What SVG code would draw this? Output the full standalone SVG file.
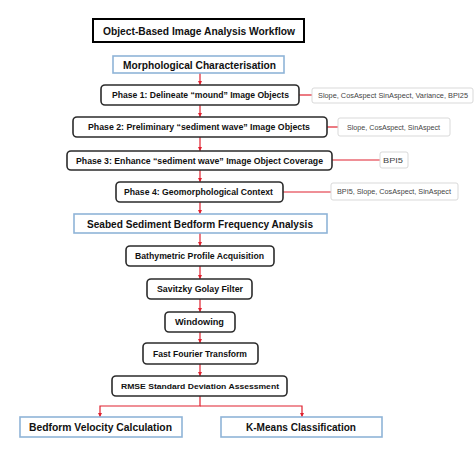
<svg xmlns="http://www.w3.org/2000/svg" width="474" height="474" viewBox="0 0 474 474">
<style>
.t{font-family:"Liberation Sans",Arial,sans-serif;font-weight:bold;fill:#111;text-anchor:middle;dominant-baseline:central}
.s{font-family:"Liberation Sans",Arial,sans-serif;fill:#444;text-anchor:middle;dominant-baseline:central;font-size:7px}
.ph{fill:#fff;stroke:#2b2b2b;stroke-width:1.6}
.bl{fill:#fff;stroke:#8fb4d8;stroke-width:1.6}
.sd{fill:#fff;stroke:#d9d9d9;stroke-width:1}
.c{stroke:#e0202e;stroke-width:1.2;fill:none}
</style>
<defs>
<marker id="ah" viewBox="0 0 6 6" refX="6" refY="3" markerWidth="4" markerHeight="4" orient="auto" markerUnits="userSpaceOnUse">
<path d="M0,0 L6,3 L0,6 z" fill="#e0202e"/>
</marker>
</defs>
<rect width="474" height="474" fill="#fff"/>
<g id="connectors">
<line class="c" x1="200" y1="73" x2="200" y2="85" marker-end="url(#ah)"/>
<line class="c" x1="200" y1="105" x2="200" y2="117" marker-end="url(#ah)"/>
<line class="c" x1="200" y1="137" x2="200" y2="151" marker-end="url(#ah)"/>
<line class="c" x1="200" y1="170" x2="200" y2="182" marker-end="url(#ah)"/>
<line class="c" x1="200" y1="202" x2="200" y2="214" marker-end="url(#ah)"/>
<line class="c" x1="200" y1="233" x2="200" y2="246" marker-end="url(#ah)"/>
<line class="c" x1="200" y1="266" x2="200" y2="279" marker-end="url(#ah)"/>
<line class="c" x1="200" y1="299" x2="200" y2="312" marker-end="url(#ah)"/>
<line class="c" x1="200" y1="332" x2="200" y2="343" marker-end="url(#ah)"/>
<line class="c" x1="200" y1="364" x2="200" y2="376" marker-end="url(#ah)"/>
<polyline class="c" points="200,396 200,406 100,406 100,417" marker-end="url(#ah)"/>
<polyline class="c" points="200,406 302,406 302,417" marker-end="url(#ah)"/>
<line class="c" x1="299" y1="95" x2="312" y2="95"/>
<line class="c" x1="327" y1="127" x2="338" y2="127"/>
<line class="c" x1="332" y1="160" x2="380" y2="160"/>
<line class="c" x1="283" y1="192" x2="331" y2="192"/>
</g>
<g id="title"><rect x="93" y="19" width="211" height="23" fill="#fff" stroke="#000" stroke-width="2"/><text class="t" x="199" y="31" font-size="11" textLength="192" lengthAdjust="spacingAndGlyphs">Object-Based Image Analysis Workflow</text></g>
<g id="morph"><rect class="bl" x="113" y="56" width="171" height="17"/><text class="t" x="199.5" y="64.5" font-size="11" textLength="153" lengthAdjust="spacingAndGlyphs">Morphological Characterisation</text></g>
<g id="phase1"><rect class="ph" x="101" y="85" width="198" height="20" rx="4"/><text class="t" x="200.5" y="95" font-size="8.5" textLength="177" lengthAdjust="spacingAndGlyphs">Phase 1: Delineate “mound” Image Objects</text></g>
<g id="phase1-inputs"><rect class="sd" x="312" y="88" width="161" height="15" rx="2"/><text class="s" x="393" y="95.5" textLength="150" lengthAdjust="spacingAndGlyphs">Slope, CosAspect SinAspect, Variance, BPI25</text></g>
<g id="phase2"><rect class="ph" x="73" y="117" width="254" height="20" rx="4"/><text class="t" x="199" y="127" font-size="8.5" textLength="222" lengthAdjust="spacingAndGlyphs">Phase 2: Preliminary “sediment wave” Image Objects</text></g>
<g id="phase2-inputs"><rect class="sd" x="338" y="118" width="112" height="18" rx="2"/><text class="s" x="393.5" y="127" textLength="93" lengthAdjust="spacingAndGlyphs">Slope, CosAspect, SinAspect</text></g>
<g id="phase3"><rect class="ph" x="67" y="151" width="265" height="19" rx="4"/><text class="t" x="199.5" y="160.5" font-size="8.5" textLength="247" lengthAdjust="spacingAndGlyphs">Phase 3: Enhance “sediment wave” Image Object Coverage</text></g>
<g id="phase3-inputs"><rect class="sd" x="380" y="152" width="28" height="16" rx="2"/><text class="s" x="393" y="160" textLength="20" lengthAdjust="spacingAndGlyphs">BPI5</text></g>
<g id="phase4"><rect class="ph" x="116" y="182" width="167" height="20" rx="4"/><text class="t" x="198.5" y="192" font-size="8.5" textLength="149" lengthAdjust="spacingAndGlyphs">Phase 4: Geomorphological Context</text></g>
<g id="phase4-inputs"><rect class="sd" x="331" y="183" width="127" height="17" rx="2"/><text class="s" x="394" y="191.5" textLength="114" lengthAdjust="spacingAndGlyphs">BPI5, Slope, CosAspect, SinAspect</text></g>
<g id="seabed"><rect class="bl" x="74" y="214" width="253" height="19"/><text class="t" x="200" y="223.5" font-size="11" textLength="226" lengthAdjust="spacingAndGlyphs">Seabed Sediment Bedform Frequency Analysis</text></g>
<g id="bathy"><rect class="ph" x="126" y="246" width="148" height="20" rx="4"/><text class="t" x="199.5" y="256" font-size="8.5" textLength="129" lengthAdjust="spacingAndGlyphs">Bathymetric Profile Acquisition</text></g>
<g id="savitzky"><rect class="ph" x="147" y="279" width="105" height="20" rx="4"/><text class="t" x="200" y="289" font-size="8.5" textLength="86" lengthAdjust="spacingAndGlyphs">Savitzky Golay Filter</text></g>
<g id="windowing"><rect class="ph" x="165" y="312" width="70" height="20" rx="4"/><text class="t" x="199.5" y="322" font-size="8.5" textLength="49" lengthAdjust="spacingAndGlyphs">Windowing</text></g>
<g id="fft"><rect class="ph" x="143" y="343" width="115" height="21" rx="4"/><text class="t" x="200" y="353.5" font-size="8.5" textLength="94" lengthAdjust="spacingAndGlyphs">Fast Fourier Transform</text></g>
<g id="rmse"><rect class="ph" x="112" y="376" width="175" height="20" rx="4"/><text class="t" x="200" y="386" font-size="8" textLength="158" lengthAdjust="spacingAndGlyphs">RMSE Standard Deviation Assessment</text></g>
<g id="velocity"><rect class="bl" x="20" y="417" width="162" height="20"/><text class="t" x="100.5" y="427" font-size="11" textLength="143" lengthAdjust="spacingAndGlyphs">Bedform Velocity Calculation</text></g>
<g id="kmeans"><rect class="bl" x="221" y="417" width="161" height="20"/><text class="t" x="301" y="427" font-size="11" textLength="110" lengthAdjust="spacingAndGlyphs">K-Means Classification</text></g>
</svg>
